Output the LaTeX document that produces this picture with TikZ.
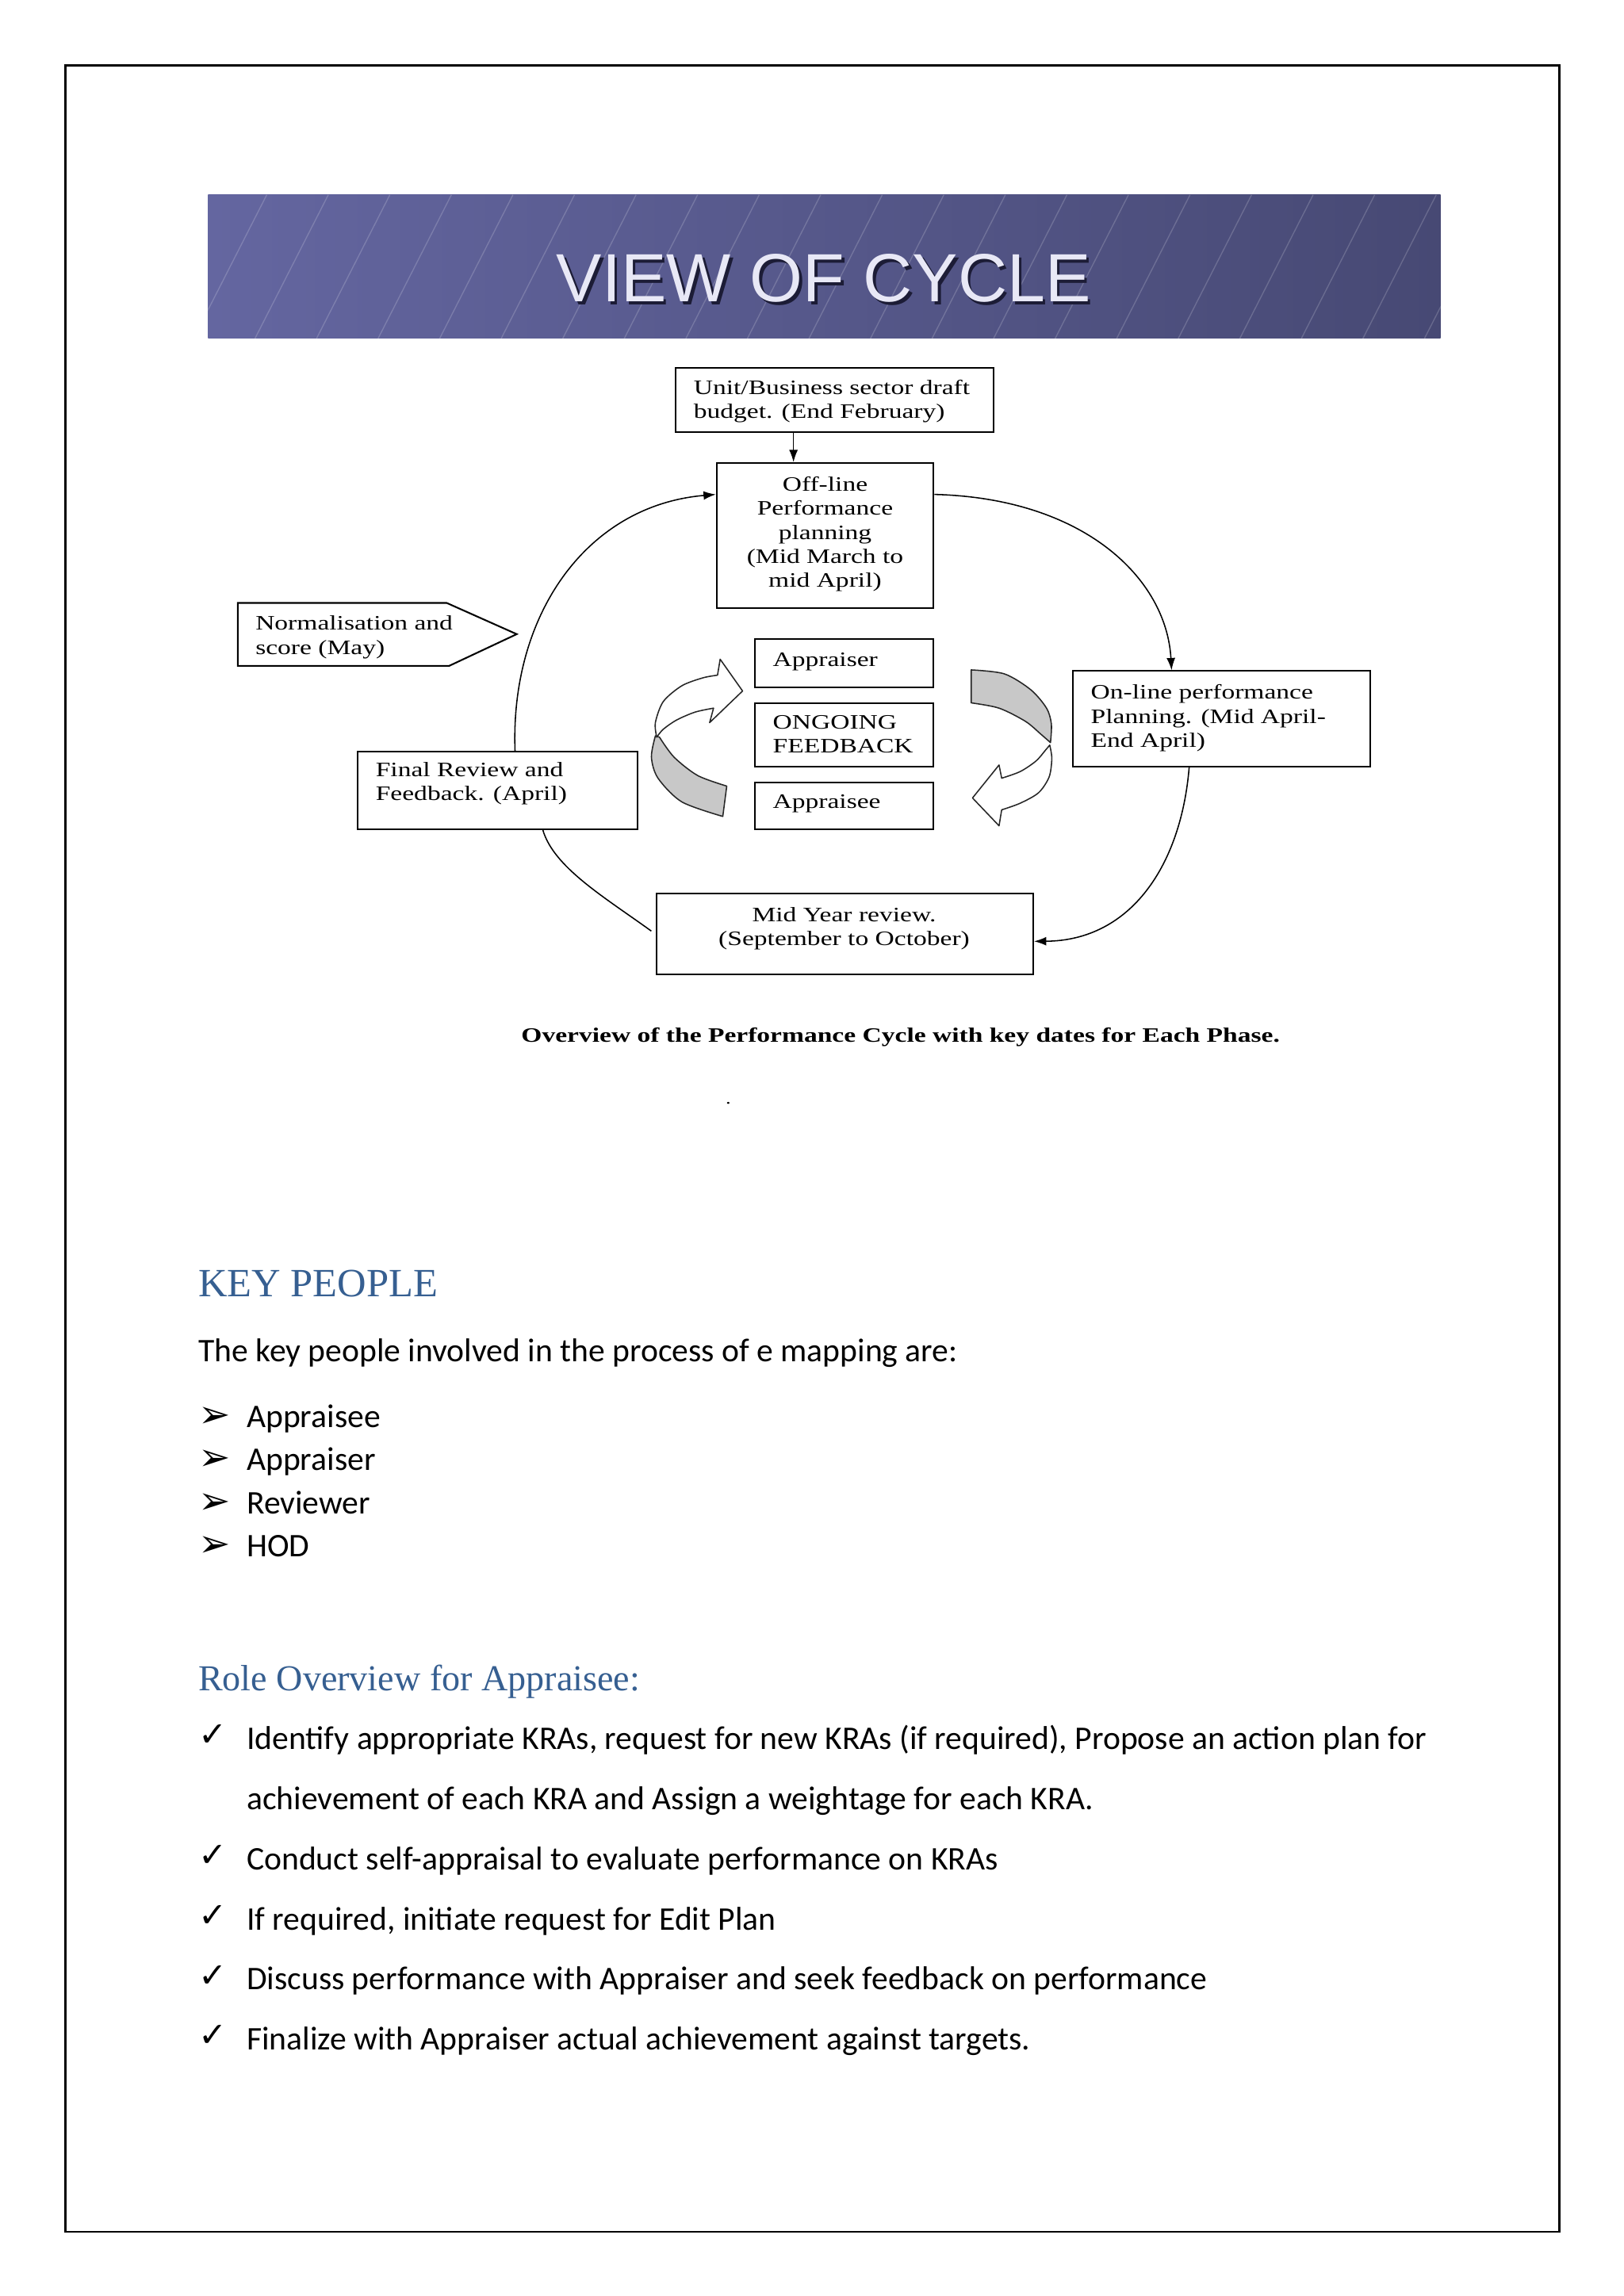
\documentclass[tikz,border=0pt]{standalone}
\usepackage{fontspec}
\setmainfont{Carlito}
\newfontfamily\dfont[FakeStretch=1.3]{Liberation Serif}
\newfontfamily\hfont{Liberation Serif}
\newfontfamily\tfont{Liberation Sans}
\newfontfamily\gfont{DejaVu Sans}
\usetikzlibrary{arrows.meta,calc,fit}
\definecolor{headblue}{HTML}{365F91}
\definecolor{banL}{HTML}{6466A0}
\definecolor{banR}{HTML}{474974}
\definecolor{titlec}{HTML}{E8E8F6}
\definecolor{shadowc}{HTML}{1C1C36}
\definecolor{arrgray}{HTML}{C8C8C8}
\begin{document}
\begin{tikzpicture}[x=0.5373pt, y=-0.5373pt,
  box/.style={draw=black, line width=0.6pt, inner sep=0pt},
  dtxt/.style={font=\dfont\fontsize{7.5}{8.8}\selectfont, inner sep=0pt, align=left, anchor=north west},
  dtxtc/.style={dtxt, align=center, anchor=north},
  flow/.style={line width=0.45pt, -{Latex[length=4.5pt,width=3.2pt]}},
  plainline/.style={line width=0.45pt},
  body/.style={font=\fontsize{12.1}{14}\selectfont, inner sep=0pt, anchor=base west},
  bul/.style={font=\gfont\fontsize{14}{16}\selectfont, inner sep=0pt, anchor=base west},
  chk/.style={font=\gfont\fontsize{12.5}{15}\selectfont, inner sep=0pt, anchor=base west},
  headone/.style={font=\hfont\fontsize{14.7}{17}\selectfont, text=headblue, inner sep=0pt, anchor=base west},
  headtwo/.style={font=\hfont\fontsize{13.4}{16}\selectfont, text=headblue, inner sep=0pt, anchor=base west},
  ribbon/.style={draw=black!85, line width=0.45pt, line join=round},
  titlefont/.style={font=\tfont\fontsize{25}{30}\selectfont, inner sep=0pt},
]
\useasboundingbox (0,0) rectangle (1108,1567);
\fill[white] (0,0) rectangle (1108,1567);
\draw[line width=0.7pt] (44.7,44.7) rectangle (1064,1523);

% banner
\shade[left color=banL, right color=banR] (142,133) rectangle (983,231);
\begin{scope}
\clip (142,133) rectangle (983,231);
\foreach \i in {0,...,22} { \draw[white, opacity=0.18, line width=0.4pt] ({90+\i*42},231) -- ({140+\i*42},133); }
\end{scope}
\node[titlefont, text=shadowc] (titleshadow) at (564,192) {VIEW OF CYCLE};
\node[titlefont, text=titlec] (title) at (562,190) {VIEW OF CYCLE};

% boxes
\node[box, fit={(461,251) (678,295)}] (bunit) {};
\node[box, fit={(489,316) (637,415)}] (boff) {};
\node[box, fit={(515,436) (637,469)}] (bapr) {};
\node[box, fit={(515,480) (637,523)}] (bong) {};
\node[box, fit={(515,534) (637,566)}] (bape) {};
\node[box, fit={(732,458) (935,523)}] (bon) {};
\node[box, fit={(244,513) (435,566)}] (bfin) {};
\node[box, fit={(448,610) (705,665)}] (bmid) {};
\draw[line width=0.6pt] (162.3,411.5) -- (304.8,411.5) -- (352.6,432.8) -- (306.6,454.4) -- (162.3,454.4) -- cycle;

% texts
\node[dtxt] (tunit) at (473,259) {Unit/Business sector draft\\budget. (End February)};
\node[dtxtc] (toff) at (563,325) {Off-line\\Performance\\planning\\(Mid March to\\mid April)};
\node[dtxt] (tnorm) at (174,420) {Normalisation and\\score (May)};
\node[dtxt] (tapr) at (527,445) {Appraiser};
\node[dtxt] (tong) at (527,488) {ONGOING\\FEEDBACK};
\node[dtxt] (tape) at (527,542) {Appraisee};
\node[dtxt] (ton) at (744,467) {On-line performance\\Planning. (Mid April-\\End April)};
\node[dtxt] (tfin) at (256,520) {Final Review and\\Feedback. (April)};
\node[dtxtc] (tmid) at (576,619) {Mid Year review.\\(September to October)};
\node[font=\dfont\bfseries\fontsize{7.5}{9}\selectfont, inner sep=0pt] (caption) at (614.5,708) {Overview of the Performance Cycle with key dates for Each Phase.};
\node[font=\dfont\fontsize{6}{7}\selectfont, inner sep=0pt] (dot) at (497,753) {.};

% connectors
\draw[flow] ($(bunit.south west)+(81,0)$) -- ($(boff.north west)+(53,0)$);
\draw[flow] ($(boff.north east)+(0,22)$) .. controls (740,340) and (796,395) .. ($(bon.north west)+(68,0)$);
\draw[flow] ($(bon.south west)+(80,0)$) .. controls (806,590) and (772,642) .. ($(bmid.north east)+(0,33)$);
\draw[plainline] ($(bmid.north west)+(-3,26)$) .. controls (412,612) and (378,592) .. ($(bfin.south west)+(127,0)$);
\draw[flow] ($(bfin.north west)+(108,0)$) .. controls (348,420) and (400,345) .. ($(boff.north west)+(0,22)$);

% ribbons
\draw[ribbon, fill=arrgray] plot[smooth] coordinates {(447.2,502.2) (444.5,516.7) (449.0,531.1) (465.3,547.3) (493.2,557.2)} -- (495.9,536.5) -- plot[smooth] coordinates {(495.9,536.5) (476.1,529.3) (459.9,516.7) (450.0,503.1)} -- cycle;
\draw[ribbon, fill=white] plot[smooth] coordinates {(448.1,503.1) (447.2,493.2) (452.6,478.8) (465.3,468.0) (479.7,462.6) (489.6,460.8)} -- (491.4,449.9) -- (506.7,471.6) -- (484.2,493.2) -- (486.9,483.3) -- plot[smooth] coordinates {(486.9,483.3) (474.3,486.0) (461.7,491.4) (452.6,497.7) (448.1,503.1)} -- cycle;
\draw[ribbon, fill=arrgray] plot[smooth] coordinates {(662.7,457.2) (685.3,459.9) (703.3,470.7) (714.1,483.3) (717.4,494.1) (716.8,506.8)} -- plot[smooth] coordinates {(716.8,506.8) (710.5,501.3) (699.7,492.3) (681.7,483.3) (662.7,479.7)} -- cycle;
\draw[ribbon, fill=white] plot[smooth] coordinates {(716.3,508.5) (717.7,517.6) (715.9,530.2) (708.7,541.0) (696.1,548.2) (683.5,552.7)} -- (681.7,563.6) -- (663.6,544.6) -- (681.7,522.1) -- (683.5,531.1) -- plot[smooth] coordinates {(683.5,531.1) (696.1,526.6) (706.9,519.4) (713.2,512.2) (716.3,508.5)} -- cycle;

% lower text
\node[headone] (kp) at (135,885) {KEY PEOPLE};
\node[body] (intro) at (135,929.5) {The key people involved in the process of e mapping are:};
\node[bul] (bl1) at (135,974) {➢}; \node[body] (i1) at (168,974) {Appraisee};
\node[bul] (bl2) at (135,1003.6) {➢}; \node[body] (i2) at (168,1003.6) {Appraiser};
\node[bul] (bl3) at (135,1033) {➢}; \node[body] (i3) at (168,1033) {Reviewer};
\node[bul] (bl4) at (135,1062.2) {➢}; \node[body] (i4) at (168,1062.2) {HOD};
\node[headtwo] (ro) at (135,1154) {Role Overview for Appraisee:};
\node[chk] (ck1) at (135,1192) {✓}; \node[body] (r1) at (168,1194) {Identify appropriate KRAs, request for new KRAs (if required), Propose an action plan for};
\node[body] (r1b) at (168,1235) {achievement of each KRA and Assign a weightage for each KRA.};
\node[chk] (ck2) at (135,1274) {✓}; \node[body] (r2) at (168,1276) {Conduct self-appraisal to evaluate performance on KRAs};
\node[chk] (ck3) at (135,1315) {✓}; \node[body] (r3) at (168,1317) {If required, initiate request for Edit Plan};
\node[chk] (ck4) at (135,1356) {✓}; \node[body] (r4) at (168,1358) {Discuss performance with Appraiser and seek feedback on performance};
\node[chk] (ck5) at (135,1397) {✓}; \node[body] (r5) at (168,1399) {Finalize with Appraiser actual achievement against targets.};
\end{tikzpicture}
\end{document}
